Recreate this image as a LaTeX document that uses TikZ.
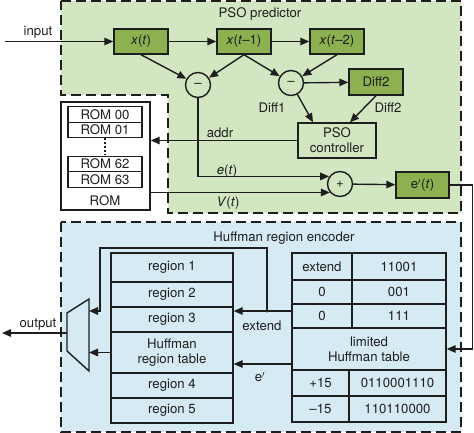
\documentclass[tikz,border=0pt]{standalone}
\usepackage{fontspec}
\setmainfont{TeX Gyre Heros}
\usetikzlibrary{arrows.meta}
\definecolor{bggreen}{RGB}{211,230,194}
\definecolor{boxgreen}{RGB}{141,176,80}
\definecolor{bgblue}{RGB}{214,234,243}
\definecolor{ink}{RGB}{30,30,30}

\begin{document}
\begin{tikzpicture}[x=1pt, y=-1pt, ink, line width=1.4pt,
        every node/.style={font=\fontsize{13.2}{15}\selectfont, inner sep=0pt, text=ink},
        arr/.style={-{Triangle[length=9pt,width=7.5pt]}},
        region/.style={draw, line width=1.9pt, dash pattern=on 10pt off 5pt},
        blk/.style={draw, fill=boxgreen, minimum width=54pt, minimum height=25pt},
        sum/.style={draw, circle, minimum size=25pt},
        cell/.style={draw, minimum width=#1},
        romcell/.style={draw, minimum width=74pt, minimum height=15.5pt}]
        \useasboundingbox (0,0) rectangle (474,433);
        \filldraw[region, fill=bggreen] (61,1) -- (461,1) -- (461,213) -- (168,213) -- (168,95) -- (61,95) -- cycle;
        \filldraw[region, fill=bgblue] (61,222) rectangle (461,432);
        \node at (260,14) {PSO predictor};
        \node at (284,238) {Huffman region encoder};

        \node[blk] (xt) at (141,41.5) {\textit{x}(\textit{t})};
        \node[blk] (xt1) at (244,41.5) {\textit{x}(\textit{t}--1)};
        \node[blk] (xt2) at (337,41.5) {\textit{x}(\textit{t}--2)};
        \node[sum] (sub1) at (198,85) {--};
        \node[sum] (sub2) at (291,83) {--};
        \node[blk, minimum height=26pt] (diff2) at (376,82) {Diff2};
        \node[draw, minimum width=78pt, minimum height=35pt, align=center] (pso) at (337,140.5) {PSO\\controller};
        \node[sum] (add) at (340,184) {+};
        \node[blk, minimum width=53pt, minimum height=26pt] (ept) at (422.5,185) {e$'$(\textit{t})};

        \node[draw, fill=white, minimum width=89pt, minimum height=108pt] (rom) at (105.5,156) {};
        \node[romcell] (rom00) at (105,114.5) {ROM 00};
        \node[romcell] (rom01) at (105,130) {ROM 01};
        \node[romcell] (rom62) at (105,164) {ROM 62};
        \node[romcell] (rom63) at (105,179.5) {ROM 63};
        \draw[dotted, line width=1.8pt] (rom01.south) -- (rom62.north);
        \node at (105,201) {ROM};

        \coordinate (in) at (5,41.5);
        \node at (38,32) {input};
        \draw[arr] (in) -- (xt);
        \draw[arr] (xt) -- (xt1);
        \draw[arr] (xt1) -- (xt2);
        \draw[arr] (xt.south) -- (sub1);
        \draw[arr] (xt1.south) -- (sub1);
        \draw[arr] (xt1.south) -- (sub2);
        \draw[arr] (xt2.south) -- (sub2);
        \draw[arr] (sub2) -- (diff2);
        \draw[arr] (sub2) -- ([xshift=-24pt]pso.north);
        \draw[arr] (diff2.south) -- ([xshift=13pt]pso.north);
        \node at (272,108) {Diff1};
        \node at (388,108) {Diff2};
        \draw[arr] (pso.west) -- (pso.west -| rom.east);
        \node at (220,133) {addr};
        \draw[arr] (sub1.south) |- (add.145);
        \node at (227,171) {\textit{e}(\textit{t})};
        \draw[arr] (rom.east |- add.220) -- (add.220);
        \node at (228,203) {\textit{V}(\textit{t})};
        \draw[arr] (add) -- (ept);

        \node[cell=122pt, minimum height=29pt] (reg1) at (172,267.5) {region 1};
        \node[cell=122pt, minimum height=25pt] (reg2) at (172,294.5) {region 2};
        \node[cell=122pt, minimum height=25pt] (reg3) at (172,319.5) {region 3};
        \node[cell=122pt, minimum height=41pt, align=center] (regtab) at (172,352.5) {Huffman\\region table};
        \node[cell=122pt, minimum height=25pt] (reg4) at (172,385.5) {region 4};
        \node[cell=122pt, minimum height=25pt] (reg5) at (172,410.5) {region 5};

        \node[cell=60pt, minimum height=27pt] (c10) at (322,266.5) {extend};
        \node[cell=94pt, minimum height=27pt] (c11) at (399,266.5) {11001};
        \node[cell=60pt, minimum height=24pt] (c20) at (322,292) {0};
        \node[cell=94pt, minimum height=24pt] (c21) at (399,292) {001};
        \node[cell=60pt, minimum height=24pt] (c30) at (322,316) {0};
        \node[cell=94pt, minimum height=24pt] (c31) at (399,316) {111};
        \node[cell=154pt, minimum height=42pt, align=center] (lht) at (369,349) {limited\\Huffman table};
        \node[cell=57pt, minimum height=26pt] (c40) at (320.5,383) {+15};
        \node[cell=97pt, minimum height=26pt] (c41) at (397.5,383) {0110001110};
        \node[cell=57pt, minimum height=26pt] (c50) at (320.5,409) {--15};
        \node[cell=97pt, minimum height=26pt] (c51) at (397.5,409) {110110000};

        \draw[arr] (ept.east) -- ++(23,0) |- (lht.east);

        \draw (67,313) -- (89,299) -- (89,371) -- (67,351) -- cycle;
        \coordinate (mux) at (89,0);
        \coordinate (muxout) at (67,333);
        \coordinate (out) at (2,333);
        \draw[arr] (muxout) -- (out);
        \node at (38,325) {output};

        \coordinate (tap) at (267,311);
        \draw[arr] ([yshift=5pt]c30.west) -- ([yshift=5pt]c30.west -| reg3.east);
        \fill (tap) circle (1.6);
        \draw[arr] (tap) |- (100,248) |- (mux |- tap);
        \node at (262,326) {extend};
        \draw[arr] ([yshift=-15pt]lht.west) -- ([yshift=-15pt]lht.west -| regtab.east);
        \node at (260,377) {e$'$};
        \draw[arr] (regtab.west) -- (regtab.west -| mux);
    \end{tikzpicture}
\end{document}
